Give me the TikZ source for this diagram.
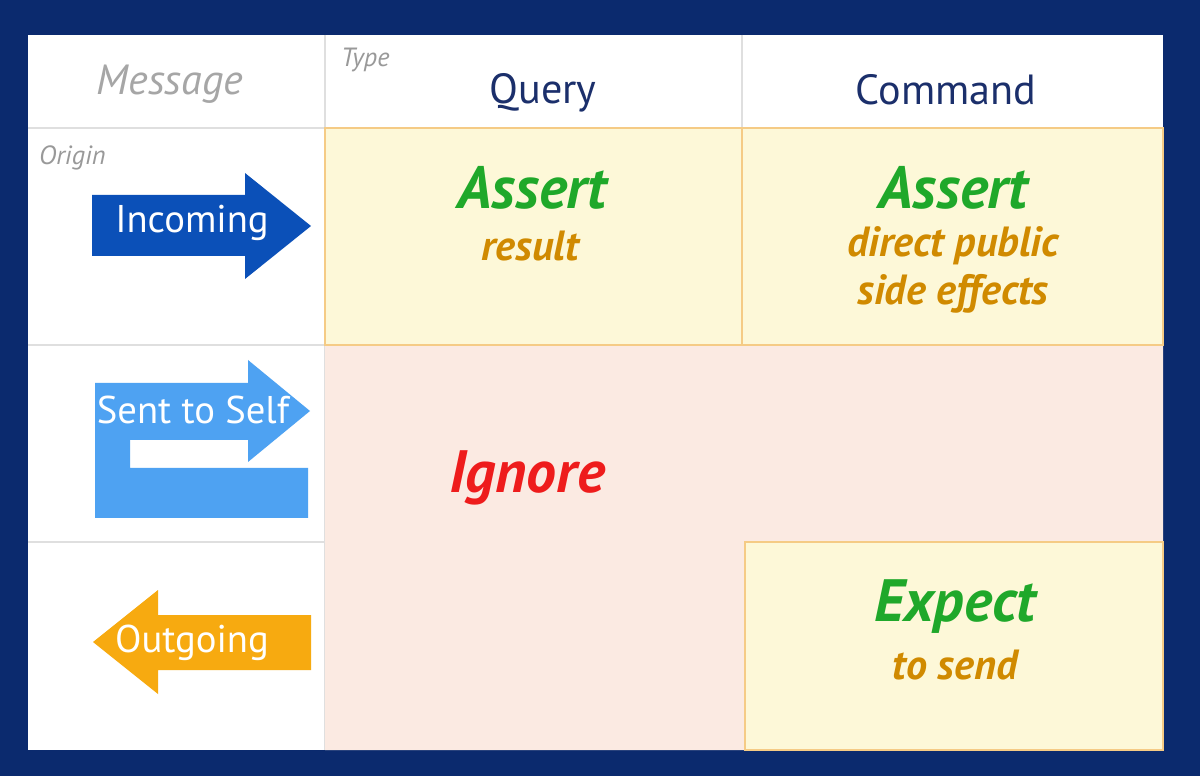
\documentclass[tikz,border=0pt]{standalone}
\usepackage{fontspec}
\setmainfont{PT Sans}
\begin{document}
\begin{tikzpicture}[x=0.02cm,y=-0.02cm,
  cellY/.style={fill=yel,draw=bord,line width=1.2pt},
  hd/.style={font=\fontsize{24}{28}\selectfont,text=navy},
  big/.style={font=\fontsize{34}{38}\selectfont\bfseries\itshape,text=grn},
  sub/.style={font=\fontsize{24}{27}\selectfont\bfseries\itshape,text=ochre,align=center},
  lab/.style={font=\fontsize{15}{17}\selectfont\itshape,text=gray!80},
  arr/.style={font=\fontsize{22}{25}\selectfont,text=white}]
\definecolor{bg}{HTML}{0B2A6E}
\definecolor{yel}{HTML}{FDF8D8}
\definecolor{bord}{HTML}{F5CB85}
\definecolor{pink}{HTML}{FBEAE2}
\definecolor{navy}{HTML}{1B2F6B}
\definecolor{grn}{HTML}{1FA82A}
\definecolor{ochre}{HTML}{D08A00}
\definecolor{ired}{HTML}{EE1C1C}
\definecolor{dblue}{HTML}{0B50B8}
\definecolor{lblue}{HTML}{4EA2F2}
\definecolor{orng}{HTML}{F7AA10}
\fill[bg] (0,0) rectangle (1200,776);
\useasboundingbox (0,0) rectangle (1200,776);
\fill[white] (28,35) rectangle (1163,750);
\draw[gray!25,line width=1pt] (325,35)--(325,750) (742,35)--(742,128) (28,128)--(325,128) (28,345)--(325,345) (28,542)--(325,542);
\fill[pink] (325,345) -- (1163,345) -- (1163,542) -- (745,542) -- (745,750) -- (325,750) -- cycle;
\draw[bord,line width=1.2pt] (325,345) -- (1163,345) (745,542)--(745,750);
\draw[cellY] (325,128) rectangle (742,345);
\draw[cellY] (742,128) rectangle (1163,345);
\draw[cellY] (745,542) rectangle (1163,750);
\node[font=\fontsize{24}{28}\selectfont\itshape,text=gray!70] (msg) at (170,84) {Message};
\node[lab,anchor=north west] (type) at (335,42) {Type};
\node[lab,anchor=north west] (orig) at (33,140) {Origin};
\node[hd] (q) at (543,93) {Query};
\node[hd] (c) at (946,90) {Command};
\node[big] (a1) at (532,188) {Assert};
\node[sub] (r1) at (530,246) {result};
\node[big] (a2) at (953,188) {Assert};
\node[sub] (r2) at (953,270) {direct public\\side effects};
\node[font=\fontsize{34}{38}\selectfont\bfseries\itshape,text=ired] (ig) at (527,478) {Ignore};
\node[big] (ex) at (955,607) {Expect};
\node[sub] (ts) at (955,665) {to send};
\fill[dblue] (92,195)--(245,195)--(245,173)--(311,226)--(245,279)--(245,256)--(92,256)--cycle;
\node[arr] (inc) at (192,223) {Incoming};
\fill[lblue] (95,383)--(248,383)--(248,360)--(310,411)--(248,462)--(248,440)--(130,440)--(130,468)--(308,468)--(308,518)--(95,518)--cycle;
\node[arr] (sts) at (193,410) {Sent to Self};
\fill[orng] (93,642)--(158,590)--(158,615)--(311,615)--(311,670)--(158,670)--(158,694)--cycle;
\node[arr] (out) at (192,643) {Outgoing};
\end{tikzpicture}
\end{document}
